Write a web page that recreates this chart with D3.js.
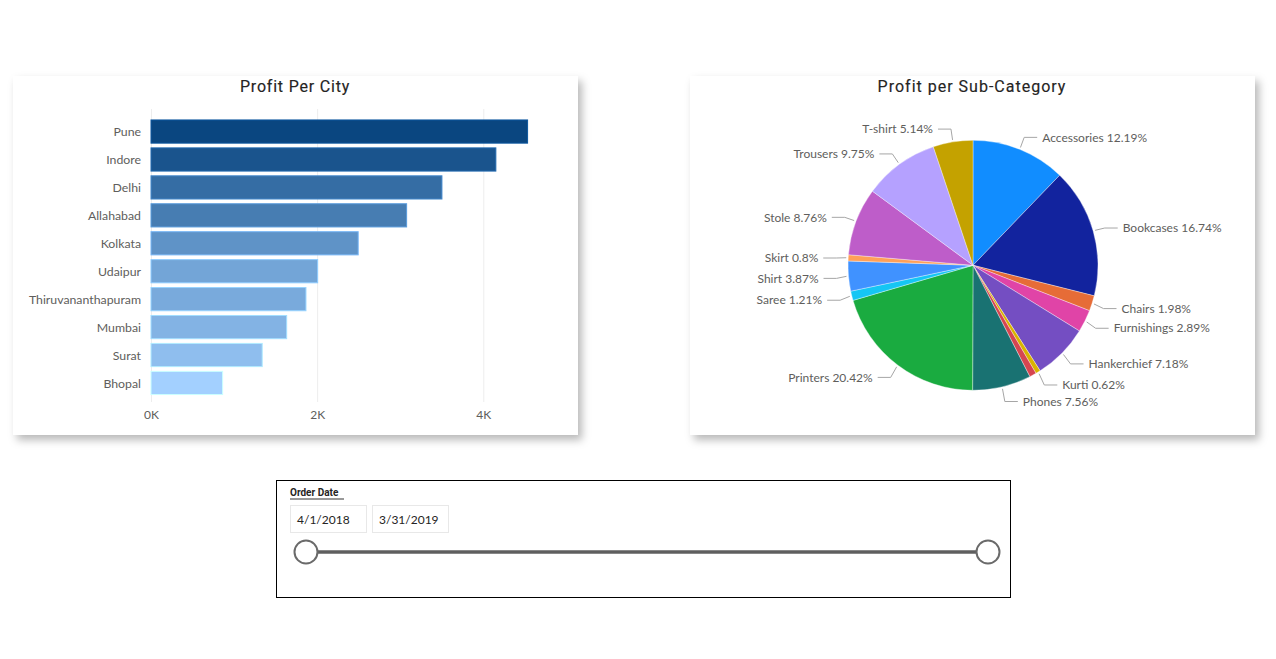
<!DOCTYPE html>
<html>
<head>
<meta charset="utf-8">
<script src="https://cdn.jsdelivr.net/npm/d3@7"></script>
<style>
  html, body { margin: 0; padding: 0; background: #ffffff; }
  svg { display: block; }
</style>
</head>
<body>
<svg id="chart" width="1276" height="659"></svg>
<script>
// ---------------- DATA ----------------
const cities = ["Pune", "Indore", "Delhi", "Allahabad", "Kolkata", "Udaipur", "Thiruvananthapuram", "Mumbai", "Surat", "Bhopal"];
const cityProfit = [4533, 4151, 3502, 3077, 2494, 2006, 1865, 1633, 1339, 862];
const xTicks = [0, 2000, 4000];

const subCategories = ["Accessories", "Bookcases", "Chairs", "Furnishings", "Hankerchief", "Kurti", "Leggings", "Phones", "Printers", "Saree", "Shirt", "Skirt", "Stole", "Trousers", "T-shirt"];
const subShare = [12.19, 16.74, 1.98, 2.89, 7.18, 0.62, 0.89, 7.56, 20.42, 1.21, 3.87, 0.8, 8.76, 9.75, 5.14];
const subLabelShown = [true, true, true, true, true, true, false, true, true, true, true, true, true, true, true];
const subColors = ["#118DFF", "#12239E", "#E66C37", "#E044A7", "#744EC2", "#D9B300", "#D64550", "#197272", "#1AAB40", "#15C6F4", "#4092FF", "#FFA058", "#BE5DC9", "#B5A1FF", "#C4A200"];

const dateStart = "4/1/2018";
const dateEnd = "3/31/2019";

// ---------------- SETUP ----------------
const svg = d3.select("#chart");
const FONT = "Lato, 'Open Sans', sans-serif";
const TITLE_FONT = "Roboto, 'Noto Sans', sans-serif";
const TXT = "#605e5c";

const defs = svg.append("defs");
const f = defs.append("filter").attr("id", "shadow")
  .attr("x", "-5%").attr("y", "-5%").attr("width", "115%").attr("height", "120%");
f.append("feDropShadow").attr("dx", 4).attr("dy", 5).attr("stdDeviation", 4)
  .attr("flood-color", "#000").attr("flood-opacity", 0.28);

// cards
const cards = [
  { x: 13, y: 76, w: 565, h: 359 },
  { x: 690, y: 76, w: 565, h: 359 }
];
svg.selectAll("rect.card").data(cards).join("rect")
  .attr("class", "card")
  .attr("x", d => d.x).attr("y", d => d.y)
  .attr("width", d => d.w).attr("height", d => d.h)
  .attr("fill", "#fff").attr("filter", "url(#shadow)");

// ---------------- BAR CHART ----------------
const barG = svg.append("g");
barG.append("text").attr("x", 295).attr("y", 92)
  .attr("text-anchor", "middle").attr("font-family", TITLE_FONT)
  .attr("font-size", 16).attr("letter-spacing", 0.8)
  .attr("stroke", "#252423").attr("stroke-width", 0.15)
  .attr("fill", "#252423").text("Profit Per City");

const x = d3.scaleLinear().domain([0, 4000]).range([151, 483.3]);
const y = d3.scaleBand().domain(cities).range([118, 396.5]).paddingInner(0.17).paddingOuter(0.07);
const color = d3.scaleLinear().domain([d3.min(cityProfit), d3.max(cityProfit)])
  .range(["#A3D0FF", "#0A4680"]).interpolate(d3.interpolateRgb);

// grid
barG.selectAll("line.grid").data(xTicks).join("line")
  .attr("class", "grid")
  .attr("x1", d => x(d) + 0.5).attr("x2", d => x(d) + 0.5)
  .attr("y1", 109).attr("y2", 402)
  .attr("stroke", "#ededed").attr("stroke-width", 1);

// bars
barG.selectAll("rect.bar").data(cities).join("rect")
  .attr("class", "bar")
  .attr("x", x(0))
  .attr("y", d => y(d))
  .attr("width", (d, i) => x(cityProfit[i]) - x(0))
  .attr("height", y.bandwidth())
  .attr("fill", (d, i) => color(cityProfit[i]))
  .attr("stroke", (d, i) => d3.color(color(cityProfit[i])).brighter(0.6))
  .attr("stroke-width", 1);

// y axis labels
const yAxis = d3.axisLeft(y).tickSize(0).tickPadding(10);
const yg = barG.append("g").attr("transform", `translate(${x(0)},1)`).call(yAxis);
yg.select(".domain").remove();
yg.selectAll("text").attr("font-family", FONT).attr("font-size", 12.3).attr("fill", TXT);

// x axis labels
const xAxis = d3.axisBottom(x).tickValues(xTicks).tickSize(0).tickPadding(0)
  .tickFormat(d => (d / 1000) + "K");
const xg = barG.append("g").attr("transform", `translate(0,410)`).call(xAxis);
xg.select(".domain").remove();
xg.selectAll("text").attr("font-family", FONT).attr("font-size", 12).attr("fill", TXT);

// ---------------- PIE CHART ----------------
const pieG = svg.append("g");
pieG.append("text").attr("x", 972).attr("y", 92)
  .attr("text-anchor", "middle").attr("font-family", TITLE_FONT)
  .attr("font-size", 16).attr("letter-spacing", 1.0)
  .attr("stroke", "#252423").attr("stroke-width", 0.15)
  .attr("fill", "#252423").text("Profit per Sub-Category");

const cx = 973, cy = 265.3, R = 125;
const pieData = subCategories.map((c, i) => ({ name: c, value: subShare[i], color: subColors[i], show: subLabelShown[i] }));
const pie = d3.pie().value(d => d.value).sort(null);
const arcs = pie(pieData);
const arc = d3.arc().innerRadius(0).outerRadius(R);

const pg = pieG.append("g").attr("transform", `translate(${cx},${cy})`);
pg.selectAll("path").data(arcs).join("path")
  .attr("d", arc)
  .attr("fill", d => d.data.color)
  .attr("stroke", "#fff").attr("stroke-width", 0.6).attr("stroke-opacity", 0.6);

// labels with leader lines
const labels = arcs.filter(d => d.data.show).map(d => {
  const a = (d.startAngle + d.endAngle) / 2;
  const s = Math.sin(a), c = -Math.cos(a);
  return {
    d, a,
    p0: [s * (R + 2), c * (R + 2)],
    elbow: [s * (R + 12), c * (R + 14)],
    side: s >= 0 ? 1 : -1,
    ty: c * (R + 14) + 1
  };
});
// collision resolution per side
[1, -1].forEach(side => {
  const group = labels.filter(l => l.side === side).sort((a, b) => a.ty - b.ty);
  const minGap = 16;
  for (let i = 1; i < group.length; i++) {
    if (group[i].ty - group[i - 1].ty < minGap) group[i].ty = group[i - 1].ty + minGap;
  }
});
labels.forEach(l => {
  l.elbow[1] = l.ty;
  l.end = [l.elbow[0] + l.side * 13, l.ty];
  l.text = [l.end[0] + l.side * 5, l.ty];
});
pg.selectAll("polyline").data(labels).join("polyline")
  .attr("points", l => [l.p0, l.elbow, l.end].map(p => p.join(",")).join(" "))
  .attr("fill", "none").attr("stroke", "#a6a6a6").attr("stroke-width", 1);
pg.selectAll("text.lbl").data(labels).join("text")
  .attr("class", "lbl")
  .attr("x", l => l.text[0]).attr("y", l => l.text[1])
  .attr("dy", "0.35em")
  .attr("text-anchor", l => l.side > 0 ? "start" : "end")
  .attr("font-family", FONT).attr("font-size", 12).attr("fill", TXT)
  .text(l => `${l.d.data.name} ${l.d.data.value}%`);

// ---------------- SLICER ----------------
const sl = svg.append("g");
sl.append("rect").attr("x", 276.5).attr("y", 480.5).attr("width", 734).attr("height", 117)
  .attr("fill", "#fff").attr("stroke", "#000").attr("stroke-width", 1);
sl.append("text").attr("x", 290).attr("y", 496)
  .attr("font-family", TITLE_FONT).attr("font-size", 10).attr("font-weight", "bold")
  .attr("fill", "#252423").text("Order Date");
sl.append("line").attr("x1", 290).attr("x2", 344).attr("y1", 499).attr("y2", 499)
  .attr("stroke", "#777").attr("stroke-width", 1.5);

const boxes = [{ x: 290, t: dateStart }, { x: 372, t: dateEnd }];
sl.selectAll("rect.db").data(boxes).join("rect")
  .attr("class", "db")
  .attr("x", d => d.x + 0.5).attr("y", 505.5).attr("width", 76).attr("height", 27)
  .attr("fill", "#fff").attr("stroke", "#e8e8e8");
sl.selectAll("text.dt").data(boxes).join("text")
  .attr("class", "dt")
  .attr("x", d => d.x + 7).attr("y", 524)
  .attr("font-family", FONT).attr("font-size", 12).attr("fill", "#252423")
  .text(d => d.t);

const sx = d3.scaleLinear().domain([0, 1]).range([306, 988]);
sl.append("line").attr("x1", sx(0)).attr("x2", sx(1)).attr("y1", 552).attr("y2", 552)
  .attr("stroke", "#5f5f5f").attr("stroke-width", 3.5);
sl.selectAll("circle").data([0, 1]).join("circle")
  .attr("cx", d => sx(d)).attr("cy", 552).attr("r", 11.5)
  .attr("fill", "#fff").attr("stroke", "#6a6a6a").attr("stroke-width", 2);
</script>
</body>
</html>
